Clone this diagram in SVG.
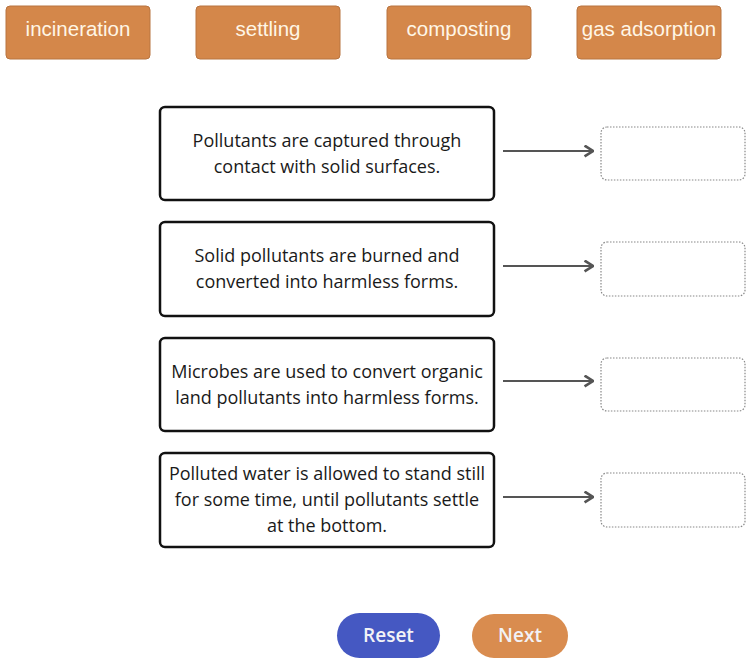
<svg xmlns="http://www.w3.org/2000/svg" width="756" height="663" viewBox="0 0 756 663">
<defs>
<style>
.opt rect{fill:#D4874A;stroke:#B87440;stroke-width:1}
.opt text{font-family:"Liberation Sans",Arial,sans-serif;font-size:20.5px;fill:#FFF6E6;text-anchor:middle}
.desc rect{fill:#fff;stroke:#111;stroke-width:2.5}
.desc text{font-family:"Open Sans","Noto Sans",sans-serif;font-size:18px;fill:#1a1a1a;text-anchor:middle}
.drop{fill:#fff;stroke:#888;stroke-width:1.2;stroke-dasharray:1.5 1.5}
.conn line{stroke:#555;stroke-width:2}
.btn text{font-family:"Open Sans","Noto Sans",sans-serif;font-size:19px;fill:#F2F2F6;text-anchor:middle;font-weight:600}
</style>
<marker id="chev" viewBox="0 0 10 10" refX="9" refY="5" markerWidth="6.5" markerHeight="6.5" orient="auto" markerUnits="strokeWidth">
<path d="M2.5,0.8 L9,5 L2.5,9.2" fill="none" stroke="#555" stroke-width="2"/>
</marker>
</defs>
<rect width="756" height="663" fill="#fff"/>
<g id="opt-incineration" class="opt"><rect x="6" y="6" width="144" height="53" rx="4"/><text x="78" y="36">incineration</text></g>
<g id="opt-settling" class="opt"><rect x="196" y="6" width="144" height="53" rx="4"/><text x="268" y="36">settling</text></g>
<g id="opt-composting" class="opt"><rect x="387" y="6" width="144" height="53" rx="4"/><text x="459" y="36">composting</text></g>
<g id="opt-gas" class="opt"><rect x="577" y="6" width="144" height="53" rx="4"/><text x="649" y="36">gas adsorption</text></g>

<g id="desc1" class="desc"><rect x="160" y="107" width="334" height="93" rx="5"/><text x="327" y="147">Pollutants are captured through</text><text x="327" y="173">contact with solid surfaces.</text></g>
<g id="desc2" class="desc"><rect x="160" y="222" width="334" height="94" rx="5"/><text x="327" y="262">Solid pollutants are burned and</text><text x="327" y="288">converted into harmless forms.</text></g>
<g id="desc3" class="desc"><rect x="160" y="338" width="334" height="93" rx="5"/><text x="327" y="378">Microbes are used to convert organic</text><text x="327" y="404">land pollutants into harmless forms.</text></g>
<g id="desc4" class="desc"><rect x="160" y="453" width="334" height="94" rx="5"/><text x="327" y="480">Polluted water is allowed to stand still</text><text x="327" y="506">for some time, until pollutants settle</text><text x="327" y="532">at the bottom.</text></g>

<g id="drop1"><rect class="drop" x="601" y="127" width="144" height="53" rx="6"/></g>
<g id="drop2"><rect class="drop" x="601" y="242" width="144" height="54" rx="6"/></g>
<g id="drop3"><rect class="drop" x="601" y="358" width="144" height="53" rx="6"/></g>
<g id="drop4"><rect class="drop" x="601" y="473" width="144" height="54" rx="6"/></g>

<g id="connectors" class="conn">
<line x1="503" y1="151" x2="593" y2="151" marker-end="url(#chev)"/>
<line x1="503" y1="266" x2="593" y2="266" marker-end="url(#chev)"/>
<line x1="503" y1="381" x2="593" y2="381" marker-end="url(#chev)"/>
<line x1="503" y1="497" x2="593" y2="497" marker-end="url(#chev)"/>
</g>

<g id="btn-reset" class="btn"><rect x="337" y="613" width="103" height="45" rx="22.5" fill="#4558C2"/><text x="388.5" y="642">Reset</text></g>
<g id="btn-next" class="btn"><rect x="472" y="614" width="96" height="44" rx="22" fill="#D98C4F"/><text x="520" y="642">Next</text></g>
</svg>
